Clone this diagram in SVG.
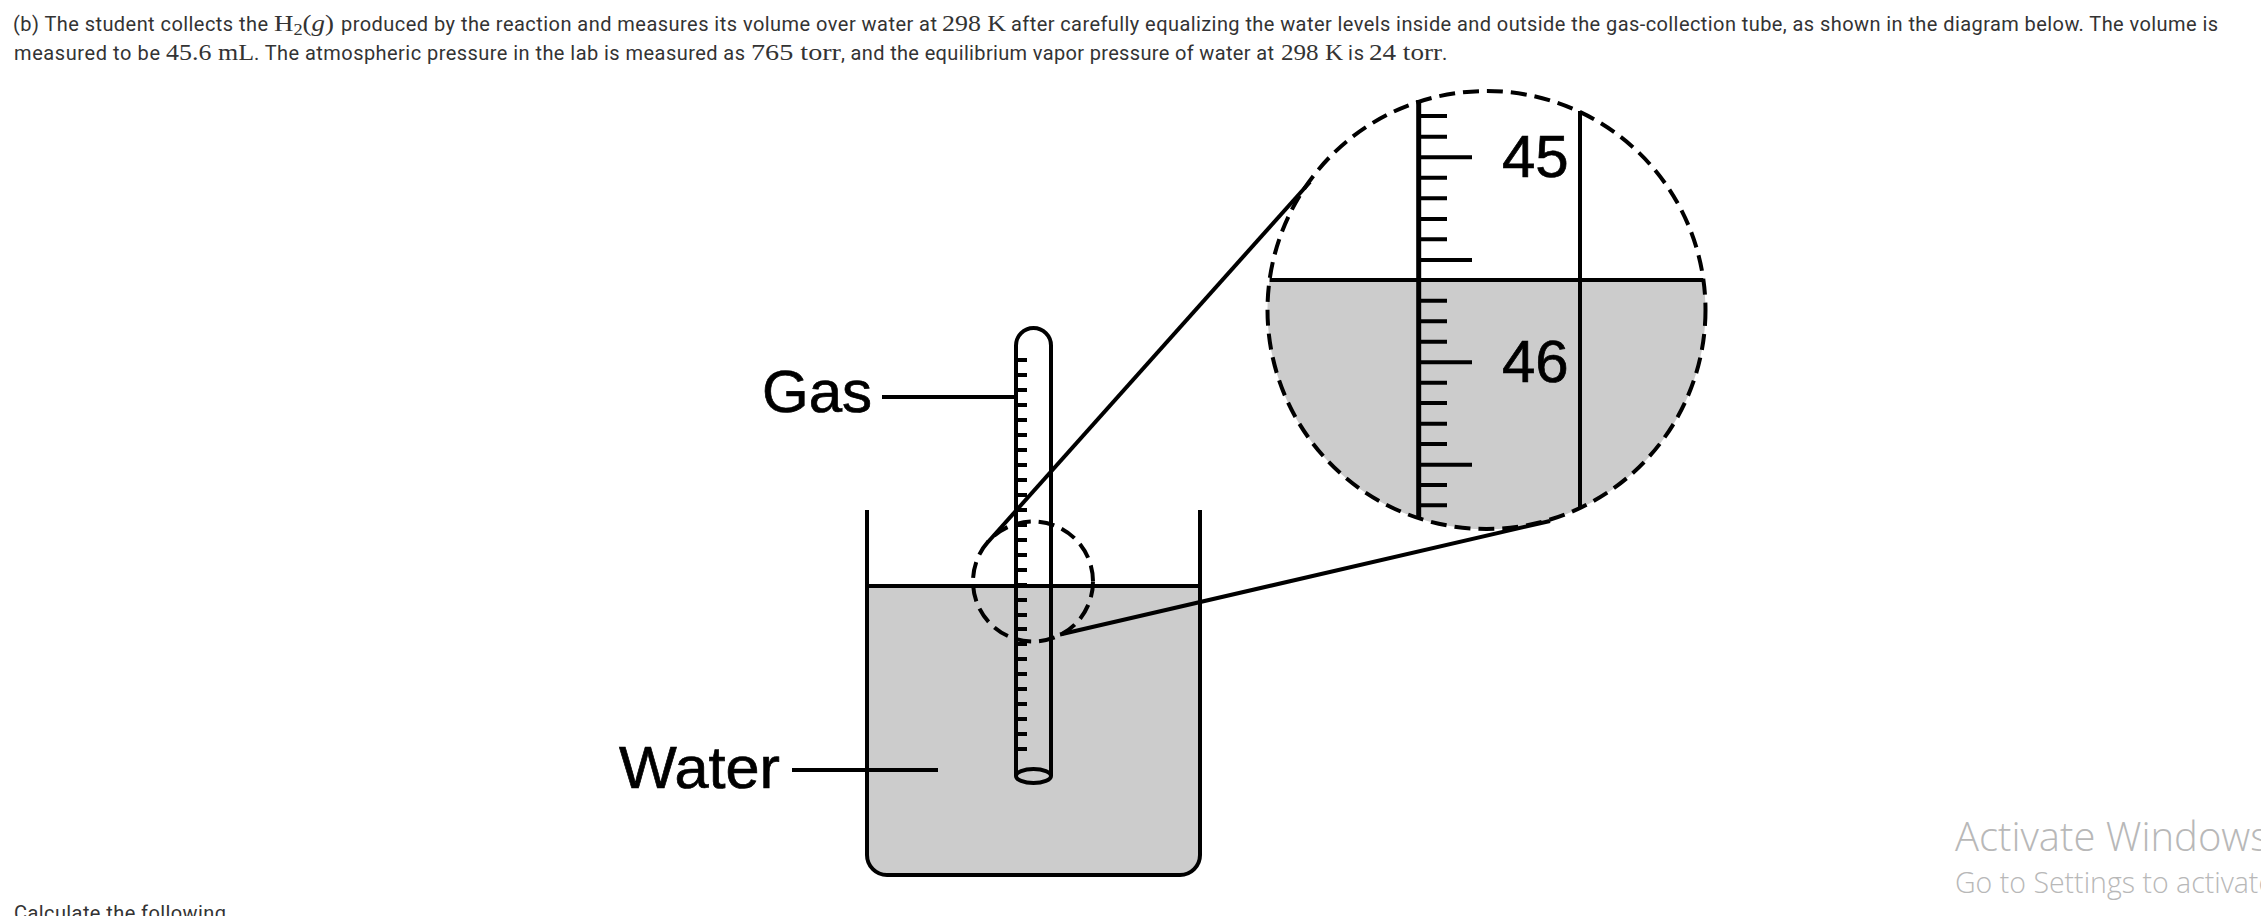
<svg xmlns="http://www.w3.org/2000/svg" width="2261" height="916" viewBox="0 0 2261 916">
<style>
.t{font-family:"Roboto","Liberation Sans",sans-serif;font-size:20px;fill:#333}
.m{font-family:"Liberation Serif","Times New Roman",serif;font-size:23.500px;fill:#333}
.lab{font-family:"Liberation Sans",Arial,sans-serif;font-size:60px;fill:#000;stroke:#000;stroke-width:.7}
.wm{font-family:"Open Sans","Noto Sans",sans-serif;font-weight:300;fill:#b8b8b8}
.ln{fill:none;stroke:#000;stroke-width:4}
.thin{fill:none;stroke:#000;stroke-width:4}
.dash{fill:none;stroke:#000;stroke-width:4;stroke-dasharray:16 8}
</style>
<rect width="2261" height="916" fill="#fff"/>
<g id="question-text">
<text class="t" x="13" y="31" textLength="255" lengthAdjust="spacing">(b) The student collects the</text>
<text class="m" x="274" y="31" textLength="60" lengthAdjust="spacingAndGlyphs">H<tspan font-size="16" dy="4">2</tspan><tspan dy="-4">(</tspan><tspan font-style="italic">g</tspan>)</text>
<text class="t" x="341" y="31" textLength="596" lengthAdjust="spacing">produced by the reaction and measures its volume over water at</text>
<text class="m" x="942" y="31" textLength="64" lengthAdjust="spacingAndGlyphs">298 K</text>
<text class="t" x="1011" y="31" textLength="1207" lengthAdjust="spacing">after carefully equalizing the water levels inside and outside the gas-collection tube, as shown in the diagram below. The volume is</text>
<text class="t" x="14" y="60" textLength="146" lengthAdjust="spacing">measured to be</text>
<text class="m" x="166" y="60" textLength="88" lengthAdjust="spacingAndGlyphs">45.6 mL</text>
<text class="t" x="254" y="60" textLength="491" lengthAdjust="spacing">. The atmospheric pressure in the lab is measured as</text>
<text class="m" x="751" y="60" textLength="90" lengthAdjust="spacingAndGlyphs">765 torr</text>
<text class="t" x="841" y="60" textLength="433" lengthAdjust="spacing">, and the equilibrium vapor pressure of water at</text>
<text class="m" x="1281" y="60" textLength="62" lengthAdjust="spacingAndGlyphs">298 K</text>
<text class="t" x="1348" y="60" textLength="16" lengthAdjust="spacing">is</text>
<text class="m" x="1369" y="60" textLength="73" lengthAdjust="spacingAndGlyphs">24 torr</text>
<text class="t" x="1442" y="60">.</text>
<text class="t" x="14" y="920" textLength="212" lengthAdjust="spacing">Calculate the following</text>
</g>
<g id="beaker">
<path d="M867 586H1200V855a20 20 0 0 1-20 20H887a20 20 0 0 1-20-20Z" fill="#ccc"/>
<path class="ln" d="M867 510V855a20 20 0 0 0 20 20H1180a20 20 0 0 0 20-20V510M867 586H1200"/>
</g>
<g id="tube">
<path class="ln" d="M1016 776V345.500a17.500 17.500 0 0 1 35 0V776"/>
<ellipse class="thin" cx="1033.500" cy="776" rx="17.500" ry="7"/>
<path class="thin" d="M1016 360h11M1016 375h11M1016 390h11M1016 405h11M1016 420h11M1016 435h11M1016 450h11M1016 465h11M1016 480h11M1016 495h11M1016 510h11M1016 525h11M1016 540h11M1016 555h11M1016 570h11M1016 585h11M1016 600h11M1016 615h11M1016 629h11M1016 644h11M1016 659h11M1016 674h11M1016 689h11M1016 704h11M1016 719h11M1016 734h11M1016 749h11"/>
</g>
<g id="magnifier">
<path d="M1269.600 280A219 219 0 1 0 1703.400 280Z" fill="#ccc"/>
<circle class="dash" cx="1486.500" cy="310" r="219"/>
<path fill="none" stroke="#000" stroke-width="5" d="M1418.700 100V518"/>
<path class="thin" d="M1580 111V509M1269.600 280H1703.400"/>
<path class="thin" d="M1419 116h28M1419 136.700h28M1419 157.300h53M1419 177.700h28M1419 198.300h28M1419 219h28M1419 239.300h28M1419 260h53M1419 300.700h28M1419 321.300h28M1419 341.700h28M1419 362.300h53M1419 382.700h28M1419 403h28M1419 423.700h28M1419 444h28M1419 464.700h53M1419 485h28M1419 505.300h28"/>
<text class="lab" x="1502" y="177">45</text>
<text class="lab" x="1502" y="382">46</text>
</g>
<g id="zoom-circle">
<circle class="dash" cx="1033" cy="581.500" r="60"/>
</g>
<g id="connectors">
<path class="ln" d="M988 542L1310 182"/>
<path class="ln" d="M1060 634.500L1550 521"/>
<path class="ln" d="M882 397H1016"/>
<path class="ln" d="M792 770H938"/>
</g>
<g id="label-gas"><text class="lab" x="762" y="412">Gas</text></g>
<g id="label-water"><text class="lab" x="619" y="788" textLength="161" lengthAdjust="spacingAndGlyphs">Water</text></g>
<g id="watermark">
<text class="wm" x="1955" y="851" font-size="40">Activate Windows</text>
<text class="wm" x="1955" y="893" font-size="28.500">Go to Settings to activate Windows.</text>
</g>
</svg>
